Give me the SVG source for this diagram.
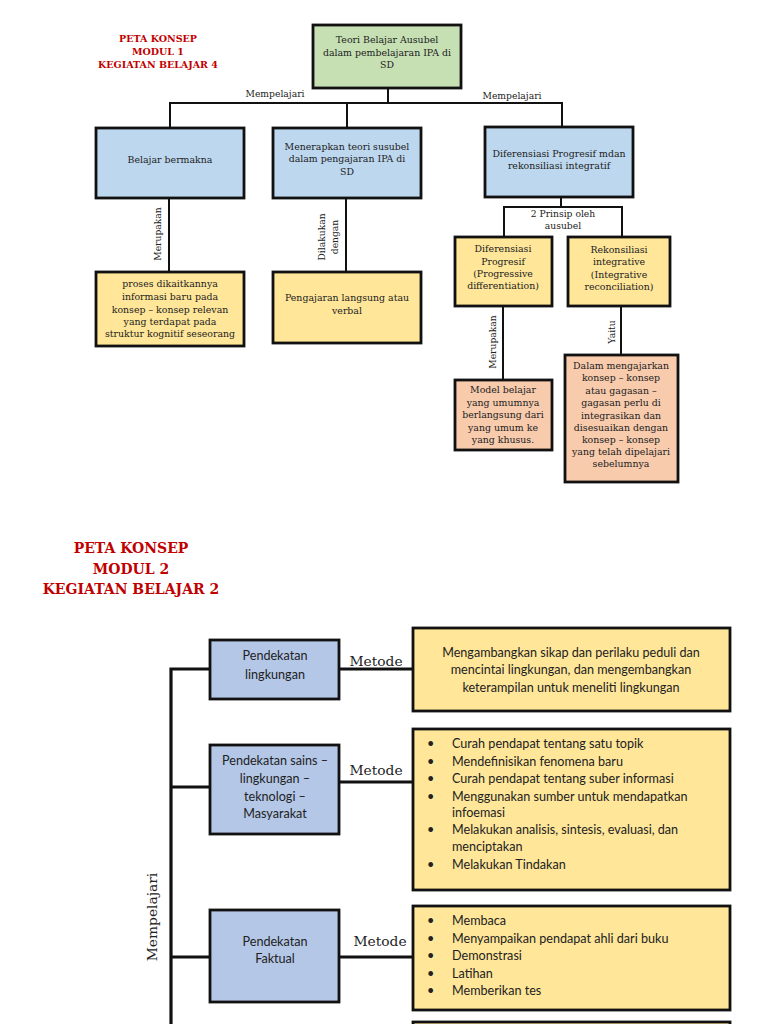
<svg xmlns="http://www.w3.org/2000/svg" width="768" height="1024" viewBox="0 0 768 1024">
<style>
.t1{font-family:"DejaVu Serif","Liberation Serif",serif;font-size:9.4px;fill:#222;text-anchor:middle}
.ttl{font-family:"DejaVu Serif","Liberation Serif",serif;font-weight:bold;fill:#c00000;text-anchor:middle}
.lab{font-family:"DejaVu Serif","Liberation Serif",serif;font-size:9.2px;fill:#222;text-anchor:middle}
.t2{font-family:Lato,"Open Sans",sans-serif;font-size:12.6px;fill:#222}
.t2c{font-family:Lato,"Open Sans",sans-serif;font-size:12.6px;fill:#222;text-anchor:middle}
.met{font-family:"DejaVu Serif","Liberation Serif",serif;font-size:13.8px;fill:#222;text-anchor:middle}
.b{stroke:#111;stroke-width:2.8}
.g{fill:#c6e0b4}.bl{fill:#bdd7ee}.y{fill:#ffe699}.o{fill:#f8cbad}.p{fill:#b4c7e7}
.c{fill:none;stroke:#111;stroke-width:2}
.c2{fill:none;stroke:#111;stroke-width:3.2}
</style>
<rect width="768" height="1024" fill="#fff"/>

<!-- Section 1 title -->
<g id="title1">
<text class="ttl" font-size="9.5" x="158" y="42">PETA KONSEP</text>
<text class="ttl" font-size="9.5" x="158" y="55">MODUL 1</text>
<text class="ttl" font-size="9.5" x="158" y="68">KEGIATAN BELAJAR 4</text>
</g>

<!-- Section 1 connectors -->
<g id="connectors1">
<path class="c" d="M388 88V103M170 128V103H562V127M347 103V128"/>
<path class="c" d="M169 198V272M346 198V272"/>
<path class="c" d="M561 197V207"/>
<path class="c" stroke-width="1.6" d="M504 237V207H622V237"/>
<path class="c" d="M503 306V380M621 306V355"/>
<text class="lab" x="275" y="97">Mempelajari</text>
<text class="lab" x="512" y="99">Mempelajari</text>
<text class="lab" transform="translate(161,234) rotate(-90)">Merupakan</text>
<text class="lab" transform="translate(325,237) rotate(-90)">Dilakukan</text>
<text class="lab" transform="translate(338,237) rotate(-90)">dengan</text>
<text class="lab" x="563" y="217">2 Prinsip oleh</text>
<text class="lab" x="563" y="229">ausubel</text>
<text class="lab" transform="translate(496,342) rotate(-90)">Merupakan</text>
<text class="lab" transform="translate(615,332) rotate(-90)">Yaitu</text>
</g>

<g id="root1">
<rect class="b g" x="313" y="25" width="148" height="63"/>
<text class="t1" x="387" y="43">Teori Belajar Ausubel</text>
<text class="t1" x="387" y="56">dalam pembelajaran IPA di</text>
<text class="t1" x="387" y="68">SD</text>
</g>
<g id="belajar">
<rect class="b bl" x="96" y="128" width="148" height="70"/>
<text class="t1" x="170" y="163">Belajar bermakna</text>
</g>
<g id="menerapkan">
<rect class="b bl" x="273" y="128" width="148" height="70"/>
<text class="t1" x="347" y="150">Menerapkan teori susubel</text>
<text class="t1" x="347" y="162">dalam pengajaran IPA di</text>
<text class="t1" x="347" y="175">SD</text>
</g>
<g id="diferensiasi">
<rect class="b bl" x="485" y="127" width="148" height="70"/>
<text class="t1" x="559" y="157">Diferensiasi Progresif mdan</text>
<text class="t1" x="559" y="169">rekonsiliasi integratif</text>
</g>
<g id="proses">
<rect class="b y" x="96" y="272" width="148" height="74"/>
<text class="t1" x="170" y="287">proses dikaitkannya</text>
<text class="t1" x="170" y="300">informasi baru pada</text>
<text class="t1" x="170" y="313">konsep – konsep relevan</text>
<text class="t1" x="170" y="325">yang terdapat pada</text>
<text class="t1" x="170" y="337">struktur kognitif seseorang</text>
</g>
<g id="pengajaran">
<rect class="b y" x="273" y="272" width="148" height="71"/>
<text class="t1" x="347" y="301">Pengajaran langsung atau</text>
<text class="t1" x="347" y="314">verbal</text>
</g>
<g id="difprog">
<rect class="b y" x="455" y="237" width="97" height="69"/>
<text class="t1" x="503" y="252">Diferensiasi</text>
<text class="t1" x="503" y="265">Progresif</text>
<text class="t1" x="503" y="277">(Progressive</text>
<text class="t1" x="503" y="289">differentiation)</text>
</g>
<g id="rekonsiliasi">
<rect class="b y" x="568" y="237" width="102" height="69"/>
<text class="t1" x="619" y="253">Rekonsiliasi</text>
<text class="t1" x="619" y="265">integrative</text>
<text class="t1" x="619" y="278">(Integrative</text>
<text class="t1" x="619" y="290">reconciliation)</text>
</g>
<g id="model">
<rect class="b o" x="455" y="380" width="97" height="70"/>
<text class="t1" x="503" y="393">Model belajar</text>
<text class="t1" x="503" y="406">yang umumnya</text>
<text class="t1" x="503" y="418">berlangsung dari</text>
<text class="t1" x="503" y="431">yang umum ke</text>
<text class="t1" x="503" y="443">yang khusus.</text>
</g>
<g id="dalam">
<rect class="b o" x="565" y="355" width="113" height="127"/>
<text class="t1" x="621" y="369">Dalam mengajarkan</text>
<text class="t1" x="621" y="381">konsep – konsep</text>
<text class="t1" x="621" y="394">atau gagasan –</text>
<text class="t1" x="621" y="406">gagasan perlu di</text>
<text class="t1" x="621" y="419">integrasikan dan</text>
<text class="t1" x="621" y="431">disesuaikan dengan</text>
<text class="t1" x="621" y="443">konsep – konsep</text>
<text class="t1" x="621" y="455">yang telah dipelajari</text>
<text class="t1" x="621" y="467">sebelumnya</text>
</g>

<!-- Section 2 -->
<g id="title2">
<text class="ttl" font-size="14" x="131" y="553">PETA KONSEP</text>
<text class="ttl" font-size="14" x="131" y="574">MODUL 2</text>
<text class="ttl" font-size="14" x="131" y="594">KEGIATAN BELAJAR 2</text>
</g>

<g id="connectors2">
<path class="c2" d="M210 669H171V1024M171 787H210M171 957H210"/>
<path class="c2" d="M339 669H413M339 782H413M339 957H413"/>
<text class="met" x="376" y="666">Metode</text>
<text class="met" x="376" y="775">Metode</text>
<text class="met" x="380" y="946">Metode</text>
<text class="met" transform="translate(157,917) rotate(-90)" font-size="14">Mempelajari</text>
</g>

<g id="lingkungan">
<rect class="b p" x="210" y="640" width="129" height="59" stroke-width="3.2"/>
<text class="t2c" x="275" y="660">Pendekatan</text>
<text class="t2c" x="275" y="679">lingkungan</text>
</g>
<g id="sains">
<rect class="b p" x="210" y="745" width="129" height="89" stroke-width="3.2"/>
<text class="t2c" x="275" y="765">Pendekatan sains –</text>
<text class="t2c" x="275" y="783">lingkungan –</text>
<text class="t2c" x="275" y="801">teknologi –</text>
<text class="t2c" x="275" y="818">Masyarakat</text>
</g>
<g id="faktual">
<rect class="b p" x="210" y="910" width="129" height="92" stroke-width="3.2"/>
<text class="t2c" x="275" y="946">Pendekatan</text>
<text class="t2c" x="275" y="963">Faktual</text>
</g>
<g id="metode1">
<rect class="b y" x="413" y="628" width="317" height="83" stroke-width="3.2"/>
<text class="t2c" x="571" y="657">Mengambangkan sikap dan perilaku peduli dan</text>
<text class="t2c" x="571" y="674">mencintai lingkungan, dan mengembangkan</text>
<text class="t2c" x="571" y="692">keterampilan untuk meneliti lingkungan</text>
</g>
<g id="metode2">
<rect class="b y" x="413" y="729" width="317" height="161" stroke-width="3.2"/>
<g class="t2">
<text x="427" y="748">•</text><text x="452" y="748">Curah pendapat tentang satu topik</text>
<text x="427" y="766">•</text><text x="452" y="766">Mendefinisikan fenomena baru</text>
<text x="427" y="783">•</text><text x="452" y="783">Curah pendapat tentang suber informasi</text>
<text x="427" y="801">•</text><text x="452" y="801">Menggunakan sumber untuk mendapatkan</text>
<text x="452" y="817">infoemasi</text>
<text x="427" y="834">•</text><text x="452" y="834">Melakukan analisis, sintesis, evaluasi, dan</text>
<text x="452" y="851">menciptakan</text>
<text x="427" y="869">•</text><text x="452" y="869">Melakukan Tindakan</text>
</g>
</g>
<g id="metode3">
<rect class="b y" x="413" y="906" width="317" height="104" stroke-width="3.2"/>
<g class="t2">
<text x="427" y="925">•</text><text x="452" y="925">Membaca</text>
<text x="427" y="943">•</text><text x="452" y="943">Menyampaikan pendapat ahli dari buku</text>
<text x="427" y="960">•</text><text x="452" y="960">Demonstrasi</text>
<text x="427" y="978">•</text><text x="452" y="978">Latihan</text>
<text x="427" y="995">•</text><text x="452" y="995">Memberikan tes</text>
</g>
</g>
<g id="metode4">
<rect class="b y" x="413" y="1022" width="317" height="20" stroke-width="3.2"/>
</g>
</svg>
